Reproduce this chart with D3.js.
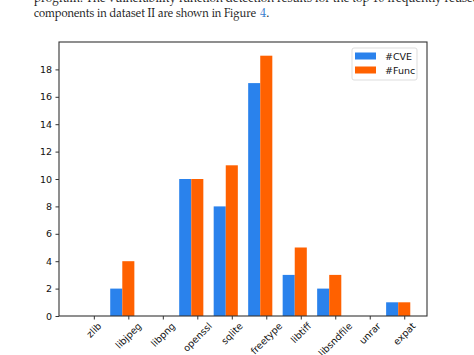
<!DOCTYPE html>
<html><head><meta charset="utf-8">
<script src="https://cdn.jsdelivr.net/npm/d3@7"></script>
<style>body{margin:0;background:#fff}svg{display:block}</style>
</head><body>
<svg id="c" width="474" height="355"></svg>
<script>
const categories = ["zlib","libjpeg","libpng","openssl","sqlite","freetype","libtiff","libsndfile","unrar","expat"];
const cveValues  = [0, 2, 0, 10, 8, 17, 3, 2, 0, 1];
const funcValues = [0, 4, 0, 10, 11, 19, 5, 3, 0, 1];
const yTicks = [0,2,4,6,8,10,12,14,16,18];
const seriesNames = ["#CVE","#Func"];
const colors = ["#2a82ec","#ff6100"];

const svg = d3.select("#c");
const L = 59, R = 427, T = 42, B = 316;
const bw = 0.35;
const x = d3.scaleLinear().domain([-0.66, 10.01]).range([L, R]);
const y = d3.scaleLinear().domain([0, 20]).range([B, T]);

// caption text
const cap = svg.append("g").attr("font-family","'TeX Gyre Pagella','Palatino Linotype','DejaVu Serif',serif").attr("fill","#222").attr("font-size",12.5);
cap.append("text").attr("x",34).attr("y",2)
  .attr("textLength",446).attr("lengthAdjust","spacingAndGlyphs")
  .text("program. The vulnerability function detection results for the top 10 frequently reused");
cap.append("text").attr("x",34).attr("y",17)
  .attr("textLength",222).attr("lengthAdjust","spacingAndGlyphs")
  .text("components in dataset II are shown in Figure");
const fig = cap.append("text").attr("x",260).attr("y",17);
fig.append("tspan").attr("fill","#3b7fd0").text("4");
fig.append("tspan").text(".");

// bars
const g = svg.append("g");
g.selectAll("rect.cve").data(cveValues).join("rect").attr("class","cve")
  .attr("x",(d,i)=>x(i-bw/2)).attr("width",(d,i)=>x(i+bw/2)-x(i-bw/2))
  .attr("y",d=>y(d)).attr("height",d=>y(0)-y(d)).attr("fill",colors[0]);
g.selectAll("rect.func").data(funcValues).join("rect").attr("class","func")
  .attr("x",(d,i)=>x(i+bw/2)).attr("width",(d,i)=>x(i+1.5*bw)-x(i+bw/2))
  .attr("y",d=>y(d)).attr("height",d=>y(0)-y(d)).attr("fill",colors[1]);

// frame
svg.append("rect").attr("x",L).attr("y",T).attr("width",R-L).attr("height",B-T)
  .attr("fill","none").attr("stroke","#333").attr("stroke-width",1.1);

// y axis
const ya = svg.append("g").attr("transform",`translate(${L},0)`)
  .call(d3.axisLeft(y).tickValues(yTicks).tickSize(3.5).tickPadding(3.5));
ya.select(".domain").remove();
ya.selectAll("line").attr("stroke","#333");
ya.selectAll("text").attr("font-family","'DejaVu Sans',sans-serif").attr("font-size",9.5).attr("fill","#111");

// x axis
const xa = svg.append("g").attr("transform",`translate(0,${B})`)
  .call(d3.axisBottom(x).tickValues(categories.map((c,i)=>i+bw)).tickSize(3.5).tickFormat(""));
xa.select(".domain").remove();
xa.selectAll("line").attr("stroke","#333");
const lbl = svg.append("g").attr("font-family","'DejaVu Sans',sans-serif").attr("font-size",9.5).attr("fill","#111");
categories.forEach((c,i)=>{
  const t = lbl.append("text").attr("text-anchor","middle").attr("dominant-baseline","central").text(c);
  const w = t.node().getComputedTextLength();
  const h = 9;
  const half = (w+h)*Math.SQRT1_2/2;
  t.attr("transform",`translate(${x(i+bw)},${B+5+half}) rotate(-45)`);
});

// legend
const lg = svg.append("g");
lg.append("rect").attr("x",352).attr("y",48).attr("width",65).attr("height",32).attr("rx",2)
  .attr("fill","#fff").attr("stroke","#ddd");
seriesNames.forEach((s,i)=>{
  lg.append("rect").attr("x",355).attr("y",52.5+i*14).attr("width",21).attr("height",7).attr("fill",colors[i]);
  lg.append("text").attr("x",385).attr("y",59.5+i*14).attr("font-family","'DejaVu Sans',sans-serif")
    .attr("font-size",9.5).attr("fill","#111").text(s);
});
</script>
</body></html>
